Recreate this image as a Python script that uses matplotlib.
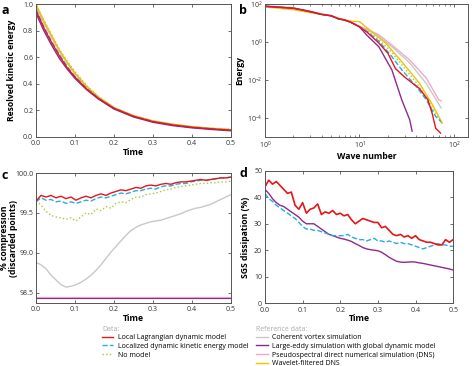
import numpy as np
import matplotlib
matplotlib.use("Agg")
from matplotlib import pyplot as plt
from matplotlib.lines import Line2D

# --- colours -----------------------------------------------------------
RED = "#e3161b"
BLUE = "#29abe2"
GREEN = "#a6c93a"
GREY = "#c8c8c8"
PURPLE = "#8e2a8e"
PINK = "#eeaacc"
YELLOW = "#f2c300"

# --- panel a: resolved kinetic energy vs time ---------------------------
t_a = [0, 0.02, 0.04, 0.06, 0.08, 0.1, 0.13, 0.16, 0.2, 0.25, 0.3, 0.35, 0.4, 0.45, 0.5]
ke_red = [0.95, 0.82, 0.71, 0.61, 0.52, 0.45, 0.36, 0.29, 0.215, 0.155, 0.115, 0.09, 0.072, 0.06, 0.05]
ke_blue = [0.96, 0.83, 0.72, 0.62, 0.53, 0.455, 0.365, 0.292, 0.217, 0.156, 0.116, 0.091, 0.073, 0.061, 0.051]
ke_green = [0.99, 0.88, 0.77, 0.66, 0.57, 0.49, 0.385, 0.305, 0.222, 0.16, 0.12, 0.095, 0.078, 0.065, 0.056]
ke_grey = [0.99, 0.87, 0.76, 0.65, 0.56, 0.48, 0.38, 0.30, 0.22, 0.16, 0.12, 0.095, 0.077, 0.064, 0.055]
ke_purple = [0.93, 0.80, 0.69, 0.59, 0.51, 0.44, 0.355, 0.285, 0.21, 0.15, 0.11, 0.085, 0.068, 0.056, 0.046]
ke_pink = [0.98, 0.86, 0.75, 0.645, 0.555, 0.475, 0.377, 0.298, 0.219, 0.158, 0.118, 0.093, 0.075, 0.062, 0.053]
ke_yellow = [1.0, 0.87, 0.76, 0.65, 0.56, 0.48, 0.38, 0.30, 0.22, 0.16, 0.12, 0.095, 0.077, 0.064, 0.055]

# --- panel b: energy spectra (log10 E) ---------------------------------
k_low = [1, 2, 3, 4, 5, 6, 7, 8, 10]
logE_low = [1.88, 1.78, 1.60, 1.45, 1.38, 1.22, 1.15, 1.05, 0.80]
k_red = k_low + [12, 16, 20, 24, 30, 43, 53, 59, 64, 72]
logE_red = logE_low + [0.52, -0.05, -0.6, -1.4, -1.85, -2.45, -3.05, -3.8, -4.55, -4.8]
k_blue = k_low + [12, 16, 22, 28, 40, 51, 64, 73]
logE_blue = logE_low + [0.55, 0.05, -0.77, -1.47, -2.35, -3.05, -3.93, -4.2]
k_green = k_low + [12, 16, 22, 28, 40, 51, 64, 75]
logE_green = logE_low + [0.58, 0.15, -0.55, -1.2, -2.15, -2.95, -3.75, -4.3]
k_grey = k_low + [12, 16, 22, 34, 51, 73]
logE_grey = [v + 0.02 for v in logE_low] + [0.65, 0.3, -0.25, -1.1, -2.2, -3.47]
k_purple = k_low + [12, 16, 22, 28, 34, 36]
logE_purple = logE_low + [0.35, -0.25, -1.47, -3.05, -4.1, -4.7]
k_pink = k_low + [12, 16, 22, 34, 51, 69, 73]
logE_pink = [v + 0.02 for v in logE_low] + [0.68, 0.38, -0.16, -0.95, -1.91, -3.05, -3.1]
k_yellow = k_low + [12, 19, 28, 43, 59, 75]
logE_yellow = [1.85, 1.70, 1.55, 1.45, 1.38, 1.25, 1.17, 1.1, 1.07, 0.75, -0.07, -1.04, -2.17, -3.3, -4.28]

# --- panel c: % compression --------------------------------------------
t_c = np.linspace(0, 0.5, 40)
comp_red = [99.65, 99.72, 99.70, 99.72, 99.69, 99.71, 99.68, 99.70, 99.66, 99.69,
            99.71, 99.69, 99.72, 99.74, 99.72, 99.75, 99.77, 99.79, 99.78, 99.80,
            99.82, 99.81, 99.84, 99.85, 99.84, 99.86, 99.87, 99.86, 99.88, 99.89,
            99.89, 99.90, 99.91, 99.92, 99.91, 99.92, 99.93, 99.94, 99.94, 99.95]
comp_blue = [99.64, 99.69, 99.66, 99.67, 99.64, 99.65, 99.62, 99.64, 99.62, 99.64,
             99.66, 99.65, 99.68, 99.70, 99.69, 99.71, 99.73, 99.75, 99.74, 99.76,
             99.78, 99.78, 99.80, 99.81, 99.80, 99.83, 99.84, 99.84, 99.86, 99.87,
             99.87, 99.89, 99.90, 99.91, 99.91, 99.92, 99.93, 99.94, 99.94, 99.95]
comp_green = [99.65, 99.60, 99.52, 99.47, 99.45, 99.44, 99.42, 99.44, 99.40, 99.45,
              99.50, 99.48, 99.55, 99.53, 99.58, 99.56, 99.62, 99.64, 99.63, 99.67,
              99.70, 99.70, 99.73, 99.74, 99.75, 99.77, 99.79, 99.80, 99.82, 99.83,
              99.84, 99.85, 99.86, 99.87, 99.87, 99.88, 99.88, 99.89, 99.89, 99.90]
comp_grey = [98.88, 98.85, 98.80, 98.72, 98.66, 98.60, 98.57, 98.58, 98.60, 98.63,
             98.67, 98.72, 98.78, 98.85, 98.93, 99.01, 99.08, 99.15, 99.22, 99.28,
             99.32, 99.35, 99.37, 99.39, 99.40, 99.41, 99.43, 99.45, 99.47, 99.49,
             99.52, 99.54, 99.56, 99.57, 99.59, 99.61, 99.64, 99.67, 99.70, 99.73]
comp_les = [98.43, 98.43]

# --- panel d: SGS dissipation ------------------------------------------
t_d = np.linspace(0, 0.5, 51)
sgs_red = [44, 46.5, 45, 46, 44.5, 43, 41.5, 42, 37, 35.5,
           38, 34, 35.5, 36, 37.5, 33.5, 34.5, 34, 35, 33.5,
           34, 33, 33.5, 31.5, 30, 31, 32, 31.5, 31, 30.5,
           30.5, 28.5, 29, 27.5, 26, 25.5, 26, 25, 25.5, 24.5,
           25.5, 24, 23.5, 23, 23, 22.5, 22, 22, 24, 23, 24]
sgs_blue = [41.5, 39.5, 38.5, 37, 36, 35, 34, 33, 32, 30.5,
            29, 28, 28, 27.5, 27.5, 27, 26.5, 26, 25.5, 25.5,
            25.5, 25.5, 26, 25, 24.5, 24, 24, 23.5, 24, 24.5,
            23.5, 23.5, 23, 23.5, 23, 22.5, 23, 22.5, 22.5, 22,
            21.5, 21, 20.5, 21, 21.5, 22, 22.5, 22, 22, 21.5, 21.5]
sgs_purple = [43, 41.5, 39.5, 38, 37, 36.5, 35.5, 34.5, 33.5, 32.5,
              31, 30, 30, 30, 29, 28, 27, 26, 25.5, 25,
              24.5, 24.2, 23.8, 23.3, 22.5, 21.8, 21, 20.5, 20.2, 20,
              19.8, 19.2, 18.3, 17.3, 16.5, 15.8, 15.5, 15.4, 15.5, 15.6,
              15.5, 15.2, 15, 14.7, 14.4, 14.1, 13.8, 13.5, 13.2, 12.9, 12.5]

FONT = "Open Sans"
plt.rcParams["font.family"] = [FONT, "DejaVu Sans"]
plt.rcParams["font.size"] = 5.0
plt.rcParams["axes.edgecolor"] = "#555555"
plt.rcParams["axes.linewidth"] = 0.7
plt.rcParams["xtick.color"] = "#555555"
plt.rcParams["ytick.color"] = "#555555"
plt.rcParams["xtick.labelcolor"] = "#333333"
plt.rcParams["ytick.labelcolor"] = "#333333"

fig = plt.figure(figsize=(4.74, 3.66), dpi=100)
ax_a = fig.add_axes([0.076, 0.626, 0.411, 0.363])
ax_b = fig.add_axes([0.559, 0.626, 0.428, 0.363])
ax_c = fig.add_axes([0.076, 0.172, 0.411, 0.355])
ax_d = fig.add_axes([0.559, 0.172, 0.397, 0.361])

for ax in (ax_a, ax_b, ax_c, ax_d):
    ax.tick_params(direction="in", top=True, right=True, length=2.5, width=0.6,
                   labelsize=5.0, pad=2)
    ax.tick_params(which="minor", direction="in", top=True, right=True, length=1.5, width=0.5)

lw = 1.0
LBL = dict(fontweight="bold", fontsize=6.2)
# a
ax_a.plot(t_a, ke_grey, color=GREY, lw=lw)
ax_a.plot(t_a, ke_pink, color=PINK, lw=lw)
ax_a.plot(t_a, ke_green, color=GREEN, lw=lw, ls=":")
ax_a.plot(t_a, ke_yellow, color=YELLOW, lw=lw)
ax_a.plot(t_a, ke_blue, color=BLUE, lw=lw, ls="--")
ax_a.plot(t_a, ke_purple, color=PURPLE, lw=lw)
ax_a.plot(t_a, ke_red, color=RED, lw=lw)
ax_a.set_xlim(0, 0.5)
ax_a.set_ylim(0, 1.0)
ax_a.set_xticks(np.arange(0, 0.51, 0.1))
ax_a.set_yticks(np.arange(0, 1.01, 0.2))
ax_a.xaxis.set_major_formatter(matplotlib.ticker.FormatStrFormatter("%.1f"))
ax_a.yaxis.set_major_formatter(matplotlib.ticker.FormatStrFormatter("%.1f"))
ax_a.set_xlabel("Time", labelpad=1, **LBL)
ax_a.set_ylabel("Resolved kinetic energy", **LBL)
ax_a.yaxis.set_label_coords(-0.105, 0.5)

# b
ax_b.plot(k_grey, 10 ** np.array(logE_grey), color=GREY, lw=lw)
ax_b.plot(k_pink, 10 ** np.array(logE_pink), color=PINK, lw=lw)
ax_b.plot(k_green, 10 ** np.array(logE_green), color=GREEN, lw=lw, ls=":")
ax_b.plot(k_yellow, 10 ** np.array(logE_yellow), color=YELLOW, lw=lw)
ax_b.plot(k_blue, 10 ** np.array(logE_blue), color=BLUE, lw=lw, ls="--")
ax_b.plot(k_purple, 10 ** np.array(logE_purple), color=PURPLE, lw=lw)
ax_b.plot(k_red, 10 ** np.array(logE_red), color=RED, lw=lw)
ax_b.set_xscale("log")
ax_b.set_yscale("log")
ax_b.set_xlim(1, 140)
ax_b.set_ylim(1e-5, 1e2)
ax_b.set_yticks([1e-4, 1e-2, 1e0, 1e2])
ax_b.yaxis.set_minor_locator(matplotlib.ticker.NullLocator())
ax_b.set_xlabel("Wave number", labelpad=1, **LBL)
ax_b.set_ylabel("Energy", labelpad=2, **LBL)

# c
ax_c.plot(t_c, comp_grey, color=GREY, lw=lw)
ax_c.plot(t_c, comp_green, color=GREEN, lw=lw, ls=":")
ax_c.plot(t_c, comp_blue, color=BLUE, lw=lw, ls="--")
ax_c.plot(t_c, comp_red, color=RED, lw=lw)
ax_c.plot([0, 0.5], comp_les, color=PINK, lw=1.6)
ax_c.plot([0, 0.5], comp_les, color=PURPLE, lw=0.8)
ax_c.set_xlim(0, 0.5)
ax_c.set_ylim(98.37, 100.0)
ax_c.set_xticks(np.arange(0, 0.51, 0.1))
ax_c.set_yticks([98.5, 99.0, 99.5, 100.0])
ax_c.xaxis.set_major_formatter(matplotlib.ticker.FormatStrFormatter("%.1f"))
ax_c.yaxis.set_major_formatter(matplotlib.ticker.FormatStrFormatter("%.1f"))
ax_c.set_xlabel("Time", labelpad=1, **LBL)
ax_c.set_ylabel("% compression\n(discarded points)", linespacing=0.95, **LBL)
ax_c.yaxis.set_label_coords(-0.095, 0.5)

# d
ax_d.plot(t_d, sgs_purple, color=PURPLE, lw=lw)
ax_d.plot(t_d, sgs_blue, color=BLUE, lw=lw, ls="--")
ax_d.plot(t_d, sgs_red, color=RED, lw=1.2)
ax_d.set_xlim(0, 0.5)
ax_d.set_ylim(0, 50)
ax_d.set_xticks(np.arange(0, 0.51, 0.1))
ax_d.set_yticks(np.arange(0, 51, 10))
ax_d.tick_params(axis="x", pad=3)
ax_d.xaxis.set_major_formatter(matplotlib.ticker.FormatStrFormatter("%.1f"))
ax_d.set_xlabel("Time", labelpad=0, **LBL)
ax_d.set_ylabel("SGS dissipation (%)", labelpad=3, **LBL)

# panel letters
for x, y, s in [(0.004, 0.972, "a"), (0.505, 0.972, "b"), (0.004, 0.52, "c"), (0.505, 0.525, "d")]:
    fig.text(x, y, s, fontsize=9, fontweight="bold", va="center")

# legends
data_handles = [Line2D([], [], color=RED, lw=1.0),
                Line2D([], [], color=BLUE, lw=1.0, ls="--"),
                Line2D([], [], color=GREEN, lw=1.0, ls=":")]
data_labels = ["Local Lagrangian dynamic model",
               "Localized dynamic kinetic energy model",
               "No model"]
ref_handles = [Line2D([], [], color=GREY, lw=1.0),
               Line2D([], [], color=PURPLE, lw=1.0),
               Line2D([], [], color=PINK, lw=1.0),
               Line2D([], [], color=YELLOW, lw=1.0)]
ref_labels = ["Coherent vortex simulation",
              "Large-eddy simulation with global dynamic model",
              "Pseudospectral direct numerical simulation (DNS)",
              "Wavelet-filtered DNS"]

leg_kw = dict(frameon=False, fontsize=5.0, handlelength=1.6, handletextpad=0.7,
              labelspacing=0.25, borderaxespad=0, borderpad=0, alignment="left",
              title_fontsize=5.0)
leg1 = fig.legend(data_handles, data_labels, title="Data:", loc="upper left",
                  bbox_to_anchor=(0.216, 0.11), **leg_kw)
leg2 = fig.legend(ref_handles, ref_labels, title="Reference data:", loc="upper left",
                  bbox_to_anchor=(0.541, 0.11), **leg_kw)
for leg in (leg1, leg2):
    leg.get_title().set_color("#aaaaaa")
    leg._legend_box.sep = 1

fig.savefig("out.png", dpi=100)
